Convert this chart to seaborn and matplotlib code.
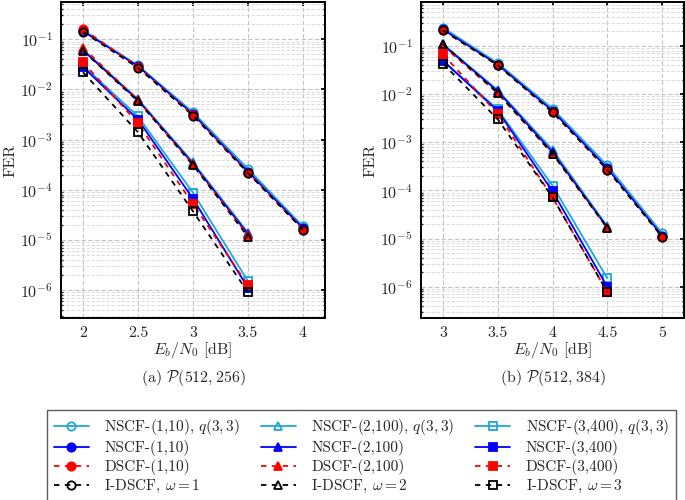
import numpy as np
import pandas as pd
import matplotlib
matplotlib.use("Agg")
import matplotlib.pyplot as plt
from matplotlib.lines import Line2D
import seaborn as sns

# --- data (FER vs Eb/N0) ---
snr_a = [2.0, 2.5, 3.0, 3.5, 4.0]
snr_b = [3.0, 3.5, 4.0, 4.5, 5.0]

# (a) P(512,256)
a_nscf_q_1 = [0.15, 0.030, 3.5e-3, 2.6e-4, 1.85e-5]
a_nscf_1 = [0.145, 0.029, 3.2e-3, 2.3e-4, 1.7e-5]
a_dscf_1 = [0.16, 0.028, 3.1e-3, 2.2e-4, 1.6e-5]
a_idscf_1 = [0.14, 0.027, 3.0e-3, 2.15e-4, 1.6e-5]

a_nscf_q_2 = [0.062, 6.4e-3, 3.5e-4, 1.4e-5]
a_nscf_2 = [0.06, 6.1e-3, 3.3e-4, 1.3e-5]
a_dscf_2 = [0.068, 6.1e-3, 3.2e-4, 1.23e-5]
a_idscf_2 = [0.059, 5.8e-3, 3.1e-4, 1.15e-5]

a_nscf_q_3 = [0.03, 2.9e-3, 8.7e-5, 1.5e-6]
a_nscf_3 = [0.028, 2.5e-3, 6.6e-5, 1.1e-6]
a_dscf_3 = [0.035, 2.1e-3, 5.2e-5, 1.25e-6]
a_idscf_3 = [0.022, 1.4e-3, 3.7e-5, 9.0e-7]

# (b) P(512,384)
b_nscf_q_1 = [0.24, 0.044, 5.0e-3, 3.3e-4, 1.3e-5]
b_nscf_1 = [0.22, 0.041, 4.5e-3, 2.9e-4, 1.15e-5]
b_dscf_1 = [0.21, 0.040, 4.3e-3, 2.7e-4, 1.1e-5]
b_idscf_1 = [0.21, 0.040, 4.2e-3, 2.7e-4, 1.1e-5]

b_nscf_q_2 = [0.11, 0.012, 7.0e-4, 1.8e-5]
b_nscf_2 = [0.105, 0.0115, 6.2e-4, 1.7e-5]
b_dscf_2 = [0.10, 0.0105, 5.8e-4, 1.66e-5]
b_idscf_2 = [0.11, 0.0105, 5.8e-4, 1.66e-5]

b_nscf_q_3 = [0.05, 4.8e-3, 1.26e-4, 1.5e-6]
b_nscf_3 = [0.049, 4.5e-3, 9.6e-5, 1.0e-6]
b_dscf_3 = [0.067, 3.9e-3, 7.2e-5, 7.8e-7]
b_idscf_3 = [0.043, 3.0e-3, 7.2e-5, 7.8e-7]

labels = [
    r"NSCF-(1,10), $q(3,3)$", "NSCF-(1,10)", "DSCF-(1,10)", r"I-DSCF, $\omega=1$",
    r"NSCF-(2,100), $q(3,3)$", "NSCF-(2,100)", "DSCF-(2,100)", r"I-DSCF, $\omega=2$",
    r"NSCF-(3,400), $q(3,3)$", "NSCF-(3,400)", "DSCF-(3,400)", r"I-DSCF, $\omega=3$",
]

sns.set_theme(style="white")
plt.rcParams["font.family"] = ["cmr10", "DejaVu Serif"]
plt.rcParams["mathtext.fontset"] = "cm"
plt.rcParams["axes.unicode_minus"] = False
plt.rcParams["axes.formatter.use_mathtext"] = True

CYAN = "#1ea8dc"
# (color, linestyle, markerfacecolor) for the four variants
styles = [
    (CYAN, "-", "none"),
    ("#0000ff", "-", "#0000ff"),
    ("#ff0000", (0, (3, 3)), "#ff0000"),
    ("black", (0, (3, 3)), "none"),
]
markers = ["o", "^", "s"]

fig = plt.figure(figsize=(6.85, 5.0), dpi=100)
ax_a = fig.add_axes([61 / 685, 182 / 500, 264 / 685, 316 / 500])
ax_b = fig.add_axes([421 / 685, 182 / 500, 263 / 685, 316 / 500])

panels = [
    (ax_a, snr_a,
     [[a_nscf_q_1, a_nscf_1, a_dscf_1, a_idscf_1],
      [a_nscf_q_2, a_nscf_2, a_dscf_2, a_idscf_2],
      [a_nscf_q_3, a_nscf_3, a_dscf_3, a_idscf_3]],
     (1.8, 4.2), (2.77e-7, 0.552), r"(a) $\mathcal{P}(512,256)$"),
    (ax_b, snr_b,
     [[b_nscf_q_1, b_nscf_1, b_dscf_1, b_idscf_1],
      [b_nscf_q_2, b_nscf_2, b_dscf_2, b_idscf_2],
      [b_nscf_q_3, b_nscf_3, b_dscf_3, b_idscf_3]],
     (2.8, 5.2), (2.25e-7, 0.815), r"(b) $\mathcal{P}(512,384)$"),
]

for ax, snr, groups, xlim, ylim, caption in panels:
    for mk, group in zip(markers, groups):
        for (col, ls, mfc), fer in zip(styles, group):
            sns.lineplot(x=snr[:len(fer)], y=fer, ax=ax, color=col, linestyle=ls,
                         linewidth=1.3, marker=mk, markersize=6,
                         markerfacecolor=mfc, markeredgecolor=col,
                         markeredgewidth=1.3, sort=False, errorbar=None)
    ax.set_yscale("log")
    ax.set_xlim(*xlim)
    ax.set_ylim(*ylim)
    ax.set_xticks(snr)
    ax.set_xticklabels([f"{v:g}" for v in snr])
    ax.set_yticks([1e-1, 1e-2, 1e-3, 1e-4, 1e-5, 1e-6])
    ax.yaxis.set_minor_locator(matplotlib.ticker.LogLocator(base=10, subs=np.arange(2, 10)))
    ax.grid(True, which="major", color="#c4c4c4", linestyle=(0, (4, 2)), linewidth=0.8)
    ax.grid(True, which="minor", axis="y", color="#d6d6d6", linestyle=(0, (4, 2)), linewidth=0.6)
    ax.tick_params(axis="both", which="major", direction="in", length=3, labelsize=11.5,
                   top=True, right=True, color="black", pad=6)
    ax.tick_params(axis="y", which="minor", direction="in", length=1.5, left=True, right=True)
    for sp in ax.spines.values():
        sp.set_color("black")
        sp.set_linewidth(1.4)
    ax.set_xlabel(r"$E_b/N_0$ [dB]", fontsize=11.5, labelpad=0)
    ax.set_ylabel("FER", fontsize=11.5, labelpad=2)
    pos = ax.get_position()
    fig.text((pos.x0 + pos.x1) / 2, 1 - 378 / 500, caption, ha="center", va="center", fontsize=11.5)

handles = []
for mk in markers:
    for col, ls, mfc in styles:
        handles.append(Line2D([], [], color=col, linestyle=ls, linewidth=1.3, marker=mk,
                              markersize=6, markerfacecolor=mfc, markeredgecolor=col,
                              markeredgewidth=1.3))

leg = fig.legend(handles, labels, ncol=3, loc="upper left",
                 bbox_to_anchor=(47 / 685, 1 - 410 / 500),
                 fontsize=11, frameon=True, fancybox=False, edgecolor="#333333",
                 handlelength=2.3, handletextpad=1.0, labelspacing=0.2, borderpad=0.45,
                 borderaxespad=0, columnspacing=1.35)
leg.get_frame().set_linewidth(1.0)

fig.savefig("out.png", dpi=100)
